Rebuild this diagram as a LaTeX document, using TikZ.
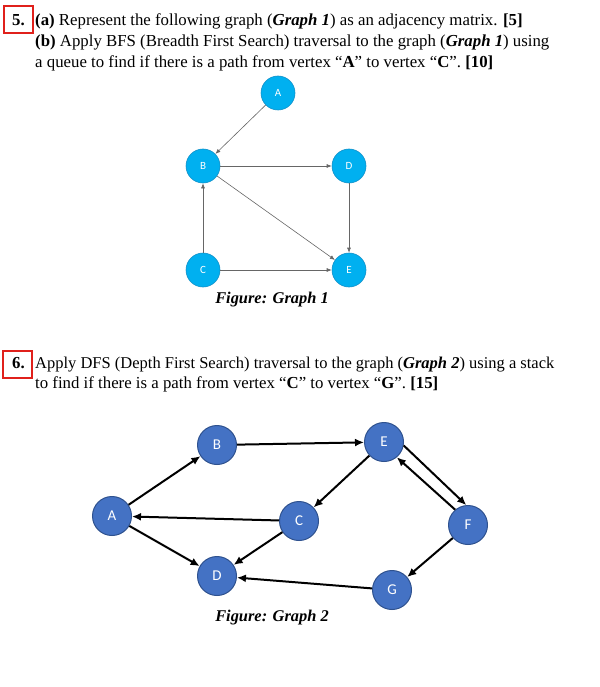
\documentclass[tikz,border=0pt]{standalone}
\usepackage{fontspec}
\setmainfont{Liberation Serif}
\newfontfamily\labelfont{Carlito}
\usetikzlibrary{arrows.meta,
                positioning}

\definecolor{qred}{HTML}{E0201B}
\definecolor{gcyan}{HTML}{00B0F0}
\definecolor{gcyanline}{HTML}{1290C8}
\definecolor{gblue}{HTML}{4472C4}
\definecolor{gblueline}{HTML}{2F528F}

\begin{document}
\begin{tikzpicture}[
        x=1pt, y=-1pt,
        qtext/.style={anchor=base west, inner sep=0pt, font=\fontsize{16.8}{21}\selectfont},
        qnum/.style={draw=qred, line width=2pt, minimum width=29pt, minimum height=27pt, inner sep=0pt},
        caption/.style={font=\fontsize{16.4}{20}\selectfont\bfseries\itshape},
        vone/.style={circle, fill=gcyan, draw=gcyanline, line width=0.6pt, minimum size=34pt, inner sep=0pt, text=white, font=\labelfont\fontsize{11}{11}\selectfont},
        vtwo/.style={circle, fill=gblue, draw=gblueline, line width=1pt, minimum size=39pt, inner sep=0pt, text=white, font=\labelfont\fontsize{15}{15}\selectfont},
        eone/.style={-{Latex[length=5pt, width=4pt]}, draw=gray!80!black, line width=0.6pt},
        etwo/.style={-{Latex[length=9pt, width=8pt]}, line width=2pt}
        ]

        \useasboundingbox (0,0) rectangle (599,687);

        % question 5
        \node (box5) [qnum] at (18,19.5) {};
        \node (num5)   [qtext] at (12,26)  {\textbf{5.}};
        \node (q5a)    [qtext] at (35,26) {\textbf{(a)} Represent the following graph (\textbf{\textit{Graph 1}}) as an adjacency matrix. \textbf{[5]}};
        \node (q5b)    [qtext] at (35,47) {\textbf{(b)} Apply BFS (Breadth First Search) traversal to the graph (\textbf{\textit{Graph 1}}) using};
        \node (q5c)    [qtext] at (35,68) {a queue to find if there is a path from vertex “\textbf{A}” to vertex “\textbf{C}”. \textbf{[10]}};

        % graph 1
        \node (A1) [vone] at (278,93)  {A};
        \node (B1) [vone] at (203,166) {B};
        \node (D1) [vone] at (349,166) {D};
        \node (C1) [vone] at (203,270) {C};
        \node (E1) [vone] at (349,270) {E};

        \draw [eone] (A1) -- (B1);
        \draw [eone] (B1) -- (D1);
        \draw [eone] (B1) -- (E1);
        \draw [eone] (D1) -- (E1);
        \draw [eone] (C1) -- (B1);
        \draw [eone] (C1) -- (E1);

        \node (cap1) [caption] at (272,300) {Figure: Graph 1};

        % question 6
        \node (box6) [qnum] at (17,364) {};
        \node (num6)   [qtext] at (12,368)  {\textbf{6.}};
        \node (q6a)    [qtext, font=\fontsize{16.5}{21}\selectfont] at (35,368) {Apply DFS (Depth First Search) traversal to the graph (\textbf{\textit{Graph 2}}) using a stack};
        \node (q6b)    [qtext] at (35,388) {to find if there is a path from vertex “\textbf{C}” to vertex “\textbf{G}”. \textbf{[15]}};

        % graph 2
        \node (A2) [vtwo] at (112,516) {A};
        \node (B2) [vtwo] at (217,445) {B};
        \node (E2) [vtwo] at (384,442) {E};
        \node (C2) [vtwo] at (299,521) {C};
        \node (F2) [vtwo] at (468,525) {F};
        \node (D2) [vtwo] at (217,576) {D};
        \node (G2) [vtwo] at (392,590) {G};

        \draw [etwo] (A2) -- (B2);
        \draw [etwo] (B2) -- (E2);
        \draw [etwo] (E2) -- (C2);
        \draw [etwo] (C2) -- (A2);
        \draw [etwo] (A2) -- (D2);
        \draw [etwo] (C2) -- (D2);
        \draw [etwo] (E2.-10) -- (F2.95);
        \draw [etwo] (F2.130) -- (E2.-50);
        \draw [etwo] (F2) -- (G2);
        \draw [etwo] (G2) -- (D2);

        \node (cap2) [caption] at (272,618) {Figure: Graph 2};

\end{tikzpicture}
\end{document}
